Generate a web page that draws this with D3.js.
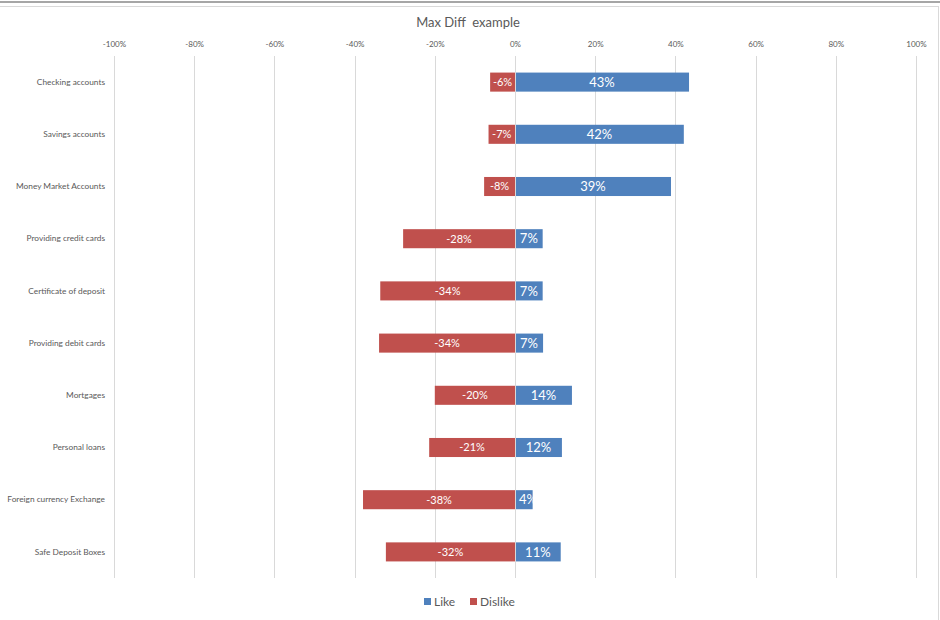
<!DOCTYPE html>
<html>
<head>
<meta charset="utf-8">
<script src="https://cdn.jsdelivr.net/npm/d3@7"></script>
<style>
  body { margin: 0; background: #fff; }
  text { font-family: Lato, "Open Sans", sans-serif; }
</style>
</head>
<body>
<div id="container"></div>
<script>
const categories = [
  'Checking accounts',
  'Savings accounts',
  'Money Market Accounts',
  'Providing credit cards',
  'Certificate of deposit',
  'Providing debit cards',
  'Mortgages',
  'Personal loans',
  'Foreign currency Exchange',
  'Safe Deposit Boxes',
];
const likeValues = [0.434, 0.421, 0.389, 0.069, 0.069, 0.07, 0.142, 0.117, 0.044, 0.114];
const dislikeValues = [-0.062, -0.066, -0.077, -0.279, -0.336, -0.339, -0.2, -0.214, -0.379, -0.322];
const tickValues = [-1, -0.8, -0.6, -0.4, -0.2, 0, 0.2, 0.4, 0.6, 0.8, 1];
const seriesNames = ['Like', 'Dislike'];

const W = 940;
const H = 620;
const margin = { top: 56, left: 114, bottom: 42, right: 24 };
const colors = { Like: '#4f81bd', Dislike: '#c0504d' };
const pct = v => d3.format('.0%')(v).replace('\u2212', '-');

const svg = d3
  .select('#container')
  .append('svg')
  .attr('width', W)
  .attr('height', H);

// outer frame
svg.append('line')
  .attr('x1', 0).attr('x2', W).attr('y1', 2).attr('y2', 2)
  .attr('stroke', '#a6a6a6').attr('stroke-width', 2);
svg.append('rect')
  .attr('x', -1).attr('y', 6.5).attr('width', 939.5).attr('height', H)
  .attr('fill', 'none').attr('stroke', '#d9d9d9');

const x = d3.scaleLinear().domain([-1, 1]).range([margin.left, W - margin.right]);
const y = d3
  .scaleBand()
  .domain(categories)
  .range([margin.top, H - margin.bottom])
  .paddingInner(0.635)
  .paddingOuter(0.3175);

svg.append('text')
  .attr('x', 468).attr('y', 27)
  .attr('text-anchor', 'middle')
  .attr('fill', '#595959')
  .attr('font-size', 13)
  .style('white-space', 'pre')
  .text('Max Diff  example');

// top axis with grid
const xAxis = d3.axisTop(x)
  .tickValues(tickValues)
  .tickFormat(pct)
  .tickSize(0)
  .tickPadding(0);
const xAxisG = svg.append('g')
  .attr('transform', 'translate(0,47)')
  .call(xAxis);
xAxisG.select('.domain').remove();
xAxisG.selectAll('text')
  .attr('font-family', 'Lato, sans-serif')
  .attr('font-size', 8)
  .attr('fill', '#595959')
  .attr('dy', 0);

svg.append('g')
  .selectAll('line')
  .data(tickValues)
  .join('line')
  .attr('x1', d => Math.round(x(d)) + 0.5)
  .attr('x2', d => Math.round(x(d)) + 0.5)
  .attr('y1', margin.top)
  .attr('y2', H - margin.bottom)
  .attr('stroke', '#d9d9d9');

// category axis
const yAxis = d3.axisLeft(y).tickSize(0).tickPadding(0);
const yAxisG = svg.append('g')
  .attr('transform', 'translate(105,0)')
  .call(yAxis);
yAxisG.select('.domain').remove();
yAxisG.selectAll('text')
  .attr('font-family', 'Lato, sans-serif')
  .attr('font-size', 8.3)
  .attr('fill', '#595959');

const rows = categories.map((c, i) => ({ c, like: likeValues[i], dislike: dislikeValues[i], i }));

const defs = svg.append('defs');
defs.selectAll('clipPath')
  .data(rows)
  .join('clipPath')
  .attr('id', d => 'clip' + d.i)
  .append('rect')
  .attr('x', x(0))
  .attr('y', d => y(d.c))
  .attr('width', d => x(d.like) - x(0))
  .attr('height', y.bandwidth());

const bars = svg.append('g');

bars.selectAll('rect.dislike')
  .data(rows)
  .join('rect')
  .attr('class', 'dislike')
  .attr('x', d => x(d.dislike))
  .attr('y', d => y(d.c))
  .attr('width', d => x(0) - x(d.dislike))
  .attr('height', y.bandwidth())
  .attr('fill', colors.Dislike);

bars.selectAll('rect.like')
  .data(rows)
  .join('rect')
  .attr('class', 'like')
  .attr('x', x(0) + 1)
  .attr('y', d => y(d.c))
  .attr('width', d => x(d.like) - x(0) - 1)
  .attr('height', y.bandwidth())
  .attr('fill', colors.Like);

bars.selectAll('text.dislike')
  .data(rows)
  .join('text')
  .attr('class', 'dislike')
  .attr('x', d => (x(d.dislike) + x(0)) / 2)
  .attr('y', d => y(d.c) + y.bandwidth() / 2)
  .attr('dy', '0.35em')
  .attr('text-anchor', 'middle')
  .attr('font-size', 11)
  .attr('fill', '#fff')
  .text(d => pct(d.dislike));

bars.selectAll('text.like')
  .data(rows)
  .join('text')
  .attr('class', 'like')
  .attr('clip-path', d => 'url(#clip' + d.i + ')')
  .attr('x', d => d.like < 0.05 ? x(0) + 4 : (x(d.like) + x(0)) / 2)
  .attr('y', d => y(d.c) + y.bandwidth() / 2)
  .attr('dy', '0.36em')
  .attr('text-anchor', d => d.like < 0.05 ? 'start' : 'middle')
  .attr('font-size', 13)
  .attr('fill', '#fff')
  .text(d => pct(d.like));

// legend
const legend = svg.append('g').attr('transform', 'translate(424,602)');
const legendX = [0, 46];
seriesNames.forEach((name, i) => {
  const g = legend.append('g').attr('transform', 'translate(' + legendX[i] + ',0)');
  g.append('rect')
    .attr('x', 0).attr('y', -4)
    .attr('width', 7).attr('height', 7)
    .attr('fill', colors[name]);
  g.append('text')
    .attr('x', 10).attr('y', 0)
    .attr('dy', '0.35em')
    .attr('font-size', 12)
    .attr('fill', '#595959')
    .text(name);
});
</script>
</body>
</html>
